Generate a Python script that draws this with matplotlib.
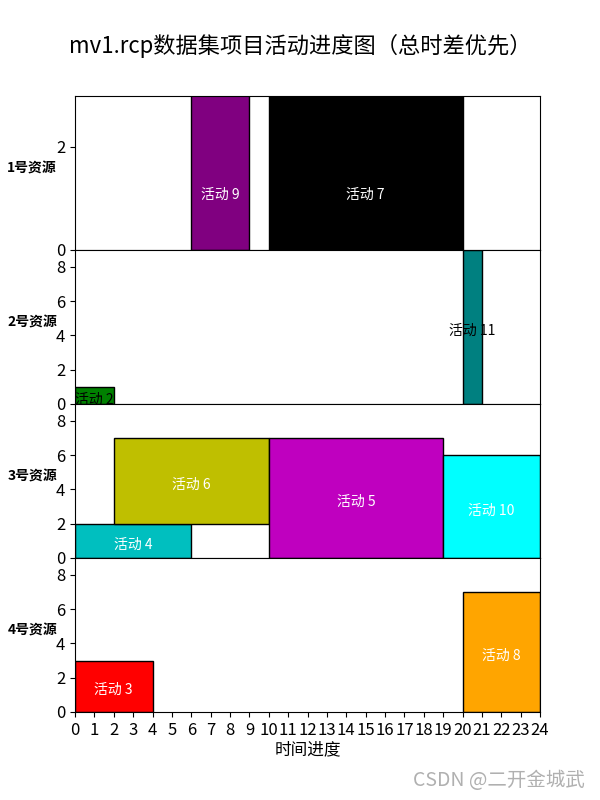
import matplotlib.pyplot as plt
from matplotlib.transforms import offset_copy

plt.rcParams['font.family'] = ['Noto Sans CJK SC', 'DejaVu Sans']
plt.rcParams['axes.unicode_minus'] = False

# schedule data, one list entry per activity
resources = ['1号资源', '2号资源', '3号资源', '4号资源']
res_ylim = [3, 9, 9, 9]
activity_ids = [9, 7, 2, 11, 4, 6, 5, 10, 3, 8]
activity_res = [0, 0, 1, 1, 2, 2, 2, 2, 3, 3]
starts = [6, 10, 0, 20, 0, 2, 10, 19, 0, 20]
durations = [3, 10, 2, 1, 6, 8, 9, 5, 4, 4]
bottoms = [0, 0, 0, 0, 0, 2, 0, 0, 0, 0]
demands = [3, 3, 1, 9, 2, 5, 7, 6, 3, 7]
colors = ['purple', 'black', 'green', 'teal', 'c', 'y', 'm', 'cyan', 'red', 'orange']
text_colors = ['white', 'white', 'black', 'black', 'white', 'white', 'white', 'white', 'white', 'white']
horizon = 24


def main():
    fig, axes = plt.subplots(4, 1, figsize=(6, 8), dpi=100, sharex=True)
    fig.subplots_adjust(hspace=0)

    for k, ax in enumerate(axes):
        ax.set_ylim(0, res_ylim[k] - 0.02)
        ax.set_yticks(range(0, res_ylim[k], 2))
        ax.set_ylabel(resources[k], rotation=0, fontsize=10, fontweight='bold',
                      va='center', ha='center')
        ax.yaxis.set_label_coords(-0.092, 0.53)
        ax.tick_params(labelsize=12)
        if k < 3:
            ax.tick_params(axis='x', bottom=False)

    for i, aid in enumerate(activity_ids):
        ax = axes[activity_res[i]]
        ax.bar(starts[i], demands[i], width=durations[i], bottom=bottoms[i],
               align='edge', color=colors[i], edgecolor='black', linewidth=1)
        top = min(bottoms[i] + demands[i], ax.get_ylim()[1])
        ymid = (bottoms[i] + top) / 2
        if activity_res[i] == 0:
            ymid = (bottoms[i] + top) / 2.6
        trans = offset_copy(ax.transData, fig=fig, x=0, y=-4, units='dots')
        ax.text(starts[i] + durations[i] / 2, ymid, f'活动 {aid}', transform=trans,
                ha='center', va='center', color=text_colors[i], fontsize=10,
                clip_on=True)

    axes[-1].set_xlim(0, horizon)
    axes[-1].set_xticks(range(0, horizon + 1))
    axes[-1].set_xlabel('时间进度', fontsize=12, labelpad=2)

    fig.suptitle('mv1.rcp数据集项目活动进度图（总时差优先）', fontsize=16, y=0.957)
    fig.text(0.975, 0.025, 'CSDN @二开金城武', ha='right', va='center',
             fontsize=14, color='#b0b0b0')
    fig.savefig('out.png')


if __name__ == '__main__':
    main()
